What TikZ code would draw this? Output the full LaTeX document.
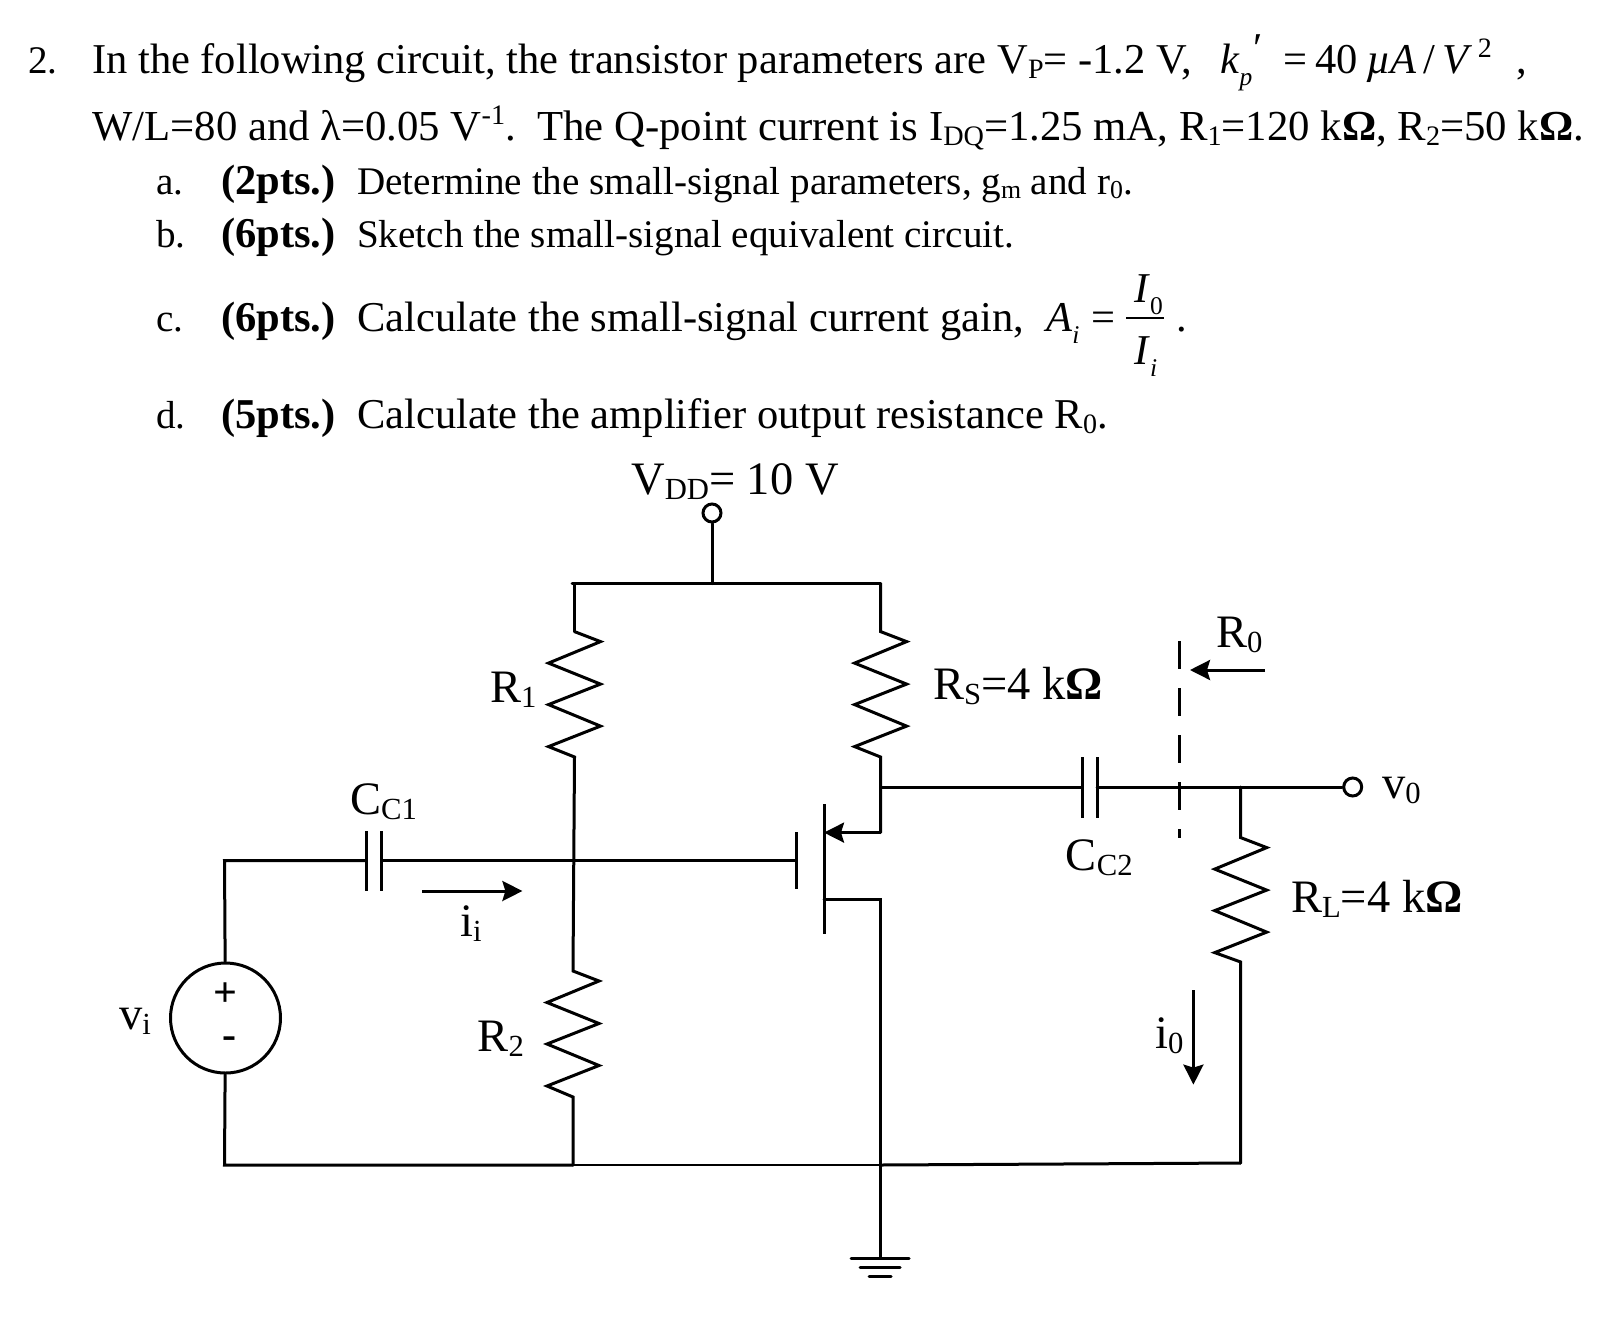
\documentclass[tikz,border=0pt]{standalone}
\usepackage{fontspec}
\setmainfont{Liberation Serif}
\usetikzlibrary{arrows.meta}
% subscript and superscript that stay close to the Word look
\newcommand{\sbs}[1]{\raisebox{-.12em}{\scalebox{.66}{#1}}}
\newcommand{\sps}[1]{\raisebox{.36em}{\scalebox{.66}{#1}}}
\newcommand{\msb}[1]{\raisebox{-.3em}{\scalebox{.6}{#1}}}
\tikzset{
  wire/.style={line width=3pt,line cap=round,line join=miter},
  thin wire/.style={line width=2.8pt,line cap=round},
  plate/.style={line width=3pt},
  cur/.style={line width=3pt,-{Stealth[length=20pt,width=20pt,inset=3pt]}},
  term/.style={circle,draw,line width=3pt,fill=white,minimum size=18pt,inner sep=0pt},
  txt/.style={anchor=base west,inner sep=0pt,font=\fontsize{42.5}{50}\selectfont},
  txw/.style={anchor=base west,inner sep=0pt,font=\fontsize{42.75}{50}\selectfont},
  txs/.style={anchor=base west,inner sep=0pt,font=\fontsize{39.1}{47}\selectfont},
  lab/.style={anchor=base west,inner sep=0pt,font=\fontsize{46.5}{54}\selectfont},
  sgn/.style={anchor=center,inner sep=0pt,font=\bfseries\fontsize{42}{42}\selectfont},
  zig/.style={insert path={-- ++(26,10) -- ++(-52,21.5) -- ++(52,21) -- ++(-52,20.5) -- ++(52,21.5) -- ++(-52,20.5)}},
}
\begin{document}
\begin{tikzpicture}[x=1pt,y=-1pt]
\useasboundingbox (0,0) rectangle (1598,1328);

% question text
\node[txs] (n2) at (28,73) {2.};
\node[txt] (l1) at (92,73) {In the following circuit, the transistor parameters are V\sbs{P}= -1.2 V,};
\node[txt] (kp) at (1220,73) {\textit{k}\msb{\textit{p}}};
\node[txt] (pr) at (1253,62) {′};
\node[txt] (eq) at (1283,73) {=};
\node[txt] (ef) at (1315,73) {40};
\node[txt] (mu) at (1366,73) {\textit{µA}\,/\,\textit{V}\kern.12em\sps{2}};
\node[txt] (cm) at (1516,73) {,};
\node[txw] (l2) at (92,140) {W/L=80 and λ=0.05 V\sps{-1}.\ \ The Q-point current is I\sbs{DQ}=1.25 mA, R\sbs{1}=120 k\textbf{Ω}, R\sbs{2}=50 k\textbf{Ω}.};
\node[txs] (a0) at (156,194) {a.};
\node[txt] (a1) at (221,194) {\textbf{(2pts.)}};
\node[txs] (a2) at (357,194) {Determine the small-signal parameters, g\sbs{m} and r\sbs{0}.};
\node[txs] (b0) at (156,247) {b.};
\node[txt] (b1) at (221,247) {\textbf{(6pts.)}};
\node[txs] (b2) at (357,247) {Sketch the small-signal equivalent circuit.};
\node[txs] (c0) at (156,331) {c.};
\node[txt] (c1) at (221,331) {\textbf{(6pts.)}};
\node[txt] (c2) at (357,331) {Calculate the small-signal current gain,};
\node[txt] (ai) at (1046,331) {\textit{A}\msb{\textit{i}}};
\node[txt] (ce) at (1091,331) {=};
\node[txt] (fn) at (1134,302) {\textit{I}\msb{0}};
\node[txt] (fd) at (1134,364) {\textit{I}\msb{\textit{i}}};
\coordinate (fa) at (1126,318);
\coordinate (fb) at (1164,318);
\draw[line width=2pt] (fa) -- (fb);
\node[txt] (cd) at (1176,331) {.};
\node[txs] (d0) at (156,428) {d.};
\node[txt] (d1) at (221,428) {\textbf{(5pts.)}};
\node[txt] (d2) at (357,428) {Calculate the amplifier output resistance R\sbs{0}.};

% junctions
\coordinate (tl) at (572,583.5);
\coordinate (tlv) at (574.5,583.5);
\coordinate (tv) at (712,583.5);
\coordinate (tr) at (880.6,583.5);
\coordinate (r1t) at (574.5,631.6);
\coordinate (r1b) at (574.5,757);
\coordinate (r2t) at (573,971);
\coordinate (r2b) at (573,1097);
\coordinate (bl) at (224.5,1165);
\coordinate (tsrc) at (224.5,860.5);
\coordinate (b2j) at (573,1165);
\coordinate (bj) at (880.6,1165);
\coordinate (br) at (1240.7,1163);
\coordinate (gnd) at (880.6,1258);
\coordinate (rst) at (880.6,631.6);
\coordinate (rsb) at (880.6,757);
\coordinate (oj) at (880.6,787);
\coordinate (sj) at (880.6,832.6);
\coordinate (dj) at (880.6,899);
\coordinate (rlj) at (1240.7,787);
\coordinate (rlt) at (1240.7,837.6);
\coordinate (rlb) at (1240.7,962);

% supply and source
\node[term] (vdd) at (712,513) {};
\node[circle,draw,line width=3pt,minimum size=110pt,inner sep=0pt] (vs) at (225.5,1018) {};
\node[sgn] (pl) at (225.5,994.5) {+};
\node[sgn] (mn) at (229,1043) {-};
\draw[wire] (vdd) -- (tv);
\draw[wire] (tl) -- (tr);
\draw[wire] (tlv) -- (r1t);

% bias divider
\draw[wire] (r1t) [zig] -- (r1b) -- (r2t) [zig] -- (r2b) -- (b2j);

% input
\coordinate (c1a) at (366.3,860.5);
\coordinate (c1b) at (381.6,860.5);
\coordinate (c1at) at (366.3,831);
\coordinate (c1ab) at (366.3,891);
\coordinate (c1bt) at (381.6,831);
\coordinate (c1bb) at (381.6,891);
\draw[plate] (c1at) -- (c1ab);
\draw[plate] (c1bt) -- (c1bb);
\draw[wire] (vs) -- (tsrc) -- (c1a);
\draw[wire] (vs) -- (bl) -- (b2j);
\draw[thin wire] (b2j) -- (bj);

% transistor
\coordinate (gw) at (796,860.5);
\coordinate (gt) at (796,832);
\coordinate (gb) at (796,889);
\coordinate (cht) at (824,804);
\coordinate (chb) at (824,933.5);
\coordinate (chs) at (824,832.6);
\coordinate (chd) at (824,899);
\draw[wire] (c1b) -- (gw);
\draw[plate] (gt) -- (gb);
\draw[plate] (cht) -- (chb);
\draw[cur] (sj) -- (chs);
\draw[wire] (chd) -- (dj) -- (bj);
\draw[wire] (bj) -- (gnd);
\coordinate (g1a) at (851,1258);
\coordinate (g1b) at (909,1258);
\coordinate (g2a) at (860,1267);
\coordinate (g2b) at (900,1267);
\coordinate (g3a) at (869,1276);
\coordinate (g3b) at (891,1276);
\draw[wire] (g1a) -- (g1b);
\draw[wire] (g2a) -- (g2b);
\draw[wire] (g3a) -- (g3b);

% source resistor and output
\draw[wire] (tr) -- (rst) [zig] -- (rsb) -- (sj);
\coordinate (c2a) at (1082,787);
\coordinate (c2b) at (1097,787);
\coordinate (c2at) at (1082,757);
\coordinate (c2ab) at (1082,818);
\coordinate (c2bt) at (1097,757);
\coordinate (c2bb) at (1097,818);
\draw[plate] (c2at) -- (c2ab);
\draw[plate] (c2bt) -- (c2bb);
\node[term] (vo) at (1352.7,787) {};
\draw[wire] (oj) -- (c2a);
\draw[wire] (c2b) -- (vo);
\draw[wire] (rlj) -- (rlt) [zig] -- (rlb) -- (br);
\draw[wire] (bj) -- (br);

% output resistance marker and currents
\coordinate (dt) at (1179.6,641);
\coordinate (db) at (1179.6,837.6);
\draw[line width=2.6pt,dash pattern=on 28pt off 19pt] (dt) -- (db);
\coordinate (roa) at (1265,670);
\coordinate (rob) at (1190,670);
\draw[cur] (roa) -- (rob);
\coordinate (iia) at (422.4,891);
\coordinate (iib) at (522.4,891);
\draw[cur] (iia) -- (iib);
\coordinate (ioa) at (1193.4,990);
\coordinate (iob) at (1193.4,1084.6);
\draw[cur] (ioa) -- (iob);

% circuit labels
\node[lab] (lvdd) at (631,494) {V\sbs{DD}= 10 V};
\node[lab] (lr1) at (490,702) {R\sbs{1}};
\node[lab] (lr2) at (477.5,1051) {R\sbs{2}};
\node[lab] (lc1) at (350,814) {C\sbs{C1}};
\node[lab] (lii) at (460,936) {i\sbs{i}};
\node[lab] (lvi) at (119,1029) {v\sbs{i}};
\node[lab] (lrs) at (933,699) {R\sbs{S}=4 k\textbf{Ω}};
\node[lab] (lro) at (1216,647) {R\sbs{0}};
\node[lab] (lvo) at (1382,798) {v\sbs{0}};
\node[lab] (lc2) at (1065.6,870) {C\sbs{C2}};
\node[lab] (lrl) at (1291,912) {R\sbs{L}=4 k\textbf{Ω}};
\node[lab] (lio) at (1155,1048) {i\sbs{0}};
\end{tikzpicture}
\end{document}
